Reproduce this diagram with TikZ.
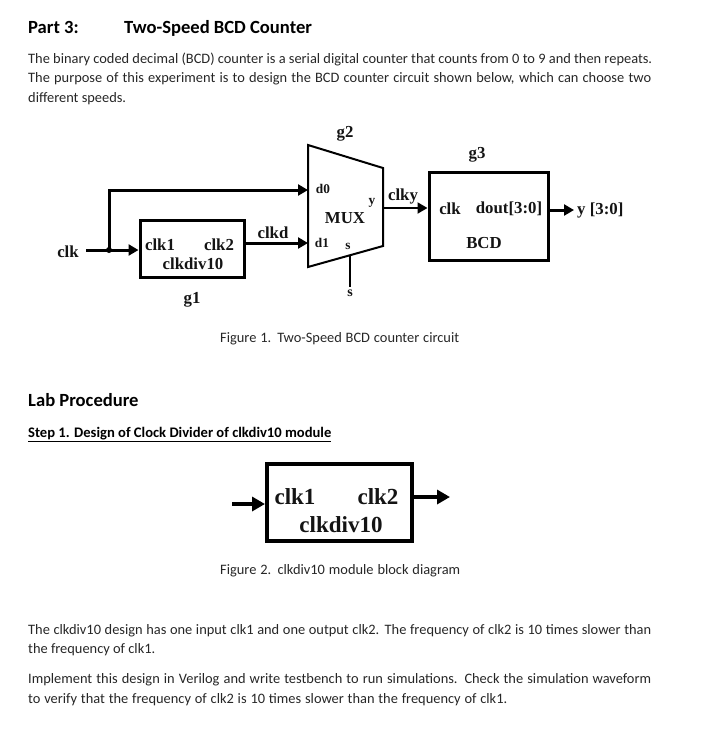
\documentclass[tikz,border=0pt]{standalone}
\usepackage{fontspec}
\setmainfont{Carlito}
\newfontfamily\figfont{Liberation Serif}
\usetikzlibrary{arrows.meta}
\definecolor{ink}{RGB}{20,20,20}
\definecolor{cBody}{RGB}{38,38,38}
\newcommand{\figtext}[1]{\fontsize{#1}{#1}\selectfont\figfont\bfseries}
\newcommand{\fitline}[2]{\makebox[#1pt][s]{#2}}
\begin{document}
\begin{tikzpicture}[
  x=1pt, y=-1pt,
  >={Triangle[length=10pt,width=11pt]},
  para/.style={anchor=base west, inner sep=0pt, text=cBody, font=\fontsize{14.4}{17}\selectfont},
  head/.style={anchor=base west, inner sep=0pt, text=black, font=\fontsize{18.6}{22}\selectfont\bfseries},
  lab/.style={inner sep=0pt, text=ink, font=\figtext{16.8}},
  sublab/.style={inner sep=0pt, text=ink, font=\figtext{13.3}},
  biglab/.style={inner sep=0pt, text=ink, font=\figtext{23}},
  block/.style={draw=black, line width=3pt, fill=white, inner sep=0pt},
  wire/.style={->, line width=3pt, draw=black},
  bigwire/.style={-{Triangle[length=13pt,width=14pt]}, line width=4pt, draw=black},
]
\useasboundingbox (0,0) rectangle (703,745);

% ---- heading and opening paragraph ----
\node[head] (PART) at (28,33) {Part 3:};
\node[head] (TITLE) at (124,33) {Two-Speed BCD Counter};
\node[para] (P1) at (28,63) {\fitline{624}{The binary coded decimal (BCD) counter is a serial digital counter that counts from 0 to 9 and then repeats.}};
\node[para] (P2) at (28,82) {\fitline{623}{The purpose of this experiment is to design the BCD counter circuit shown below, which can choose two}};
\node[para] (P3) at (28,102) {different speeds.};

% ---- figure 1: divider block ----
\node[block, minimum width=104pt, minimum height=57pt] (G1) at (192,248.5) {};
\node[lab] (G1A) at (160,245) {clk1};
\node[lab] (G1B) at (219,245) {clk2};
\node[lab] (G1C) at (193,264) {clkdiv10};
\node[lab] (G1N) at (192,300) {g1};

% ---- figure 1: mux ----
\coordinate (MA) at (308,145);
\coordinate (MB) at (383,168);
\coordinate (MC) at (383,246);
\coordinate (MD) at (308,267);
\draw[line width=2pt, draw=black, line join=miter] (MA) -- (MB) -- (MC) -- (MD) -- cycle;
\node[sublab] (D0) at (323,189) {d0};
\node[sublab] (D1) at (322,243) {d1};
\node[sublab] (MS) at (348,246) {s};
\node[sublab] (MY) at (372,203) {y};
\node[lab] (MUX) at (345,218) {MUX};
\node[lab] (G2N) at (345,134) {g2};

% ---- figure 1: counter block ----
\node[block, minimum width=119pt, minimum height=88pt] (G3) at (488.5,216) {};
\node[lab] (G3A) at (450,209) {clk};
\node[lab] (G3B) at (509,209) {dout[3:0]};
\node[lab] (G3C) at (484,243) {BCD};
\node[lab] (G3N) at (477,155) {g3};

% ---- figure 1: wires ----
\node[lab] (CLK) at (68,252) {clk};
\node[lab] (CLKD) at (273,233) {clkd};
\node[lab] (CLKY) at (403,196) {clky};
\node[lab, anchor=west] (OUT) at (577,210) {y [3:0]};
\node[sublab, font=\figtext{14}] (SN) at (350,293) {s};
\coordinate (JN) at (109,250);
\coordinate (WS) at (86,250);
\coordinate (WT) at (109,190);
\coordinate (SA) at (350,255);
\coordinate (SB) at (350,287);
\draw[wire] (WS) -- (WS -| G1.west);
\draw[wire, -, line cap=rect] (JN) -- (WT);
\draw[wire] (WT) -- (WT -| MA);
\fill (JN) circle (3pt);
\draw[wire] (G1.east |- 0,243) -- (MA |- 0,243);
\draw[wire, line width=2pt] (MB |- 0,208) -- (G3.west |- 0,208);
\draw[wire] (G3.east |- 0,210) -- (OUT.west -| 574,0);
\draw[line width=2pt] (SA) -- (SB);

% ---- caption and procedure ----
\node[para] (F1) at (220,342) {\fitline{239}{Figure 1. Two-Speed BCD counter circuit}};
\node[head] (LAB) at (28,406) {Lab Procedure};
\node[anchor=base west, inner sep=0pt, font=\fontsize{14.6}{17}\selectfont\bfseries] (STEP) at (28,437) {\underline{Step 1. Design of Clock Divider of clkdiv10 module}};

% ---- figure 2 ----
\node[block, line width=4pt, minimum width=145pt, minimum height=77pt] (DIV) at (339.5,502.5) {};
\node[biglab] (DA) at (295,497) {clk1};
\node[biglab] (DB) at (378,497) {clk2};
\node[biglab] (DC) at (341,525) {clkdiv10};
\coordinate (DS) at (232,504);
\coordinate (DE) at (450,497);
\draw[bigwire] (DS) -- (DS -| DIV.west);
\draw[bigwire] (DE -| DIV.east) -- (DE);
\node[para] (F2) at (220,574) {\fitline{240}{Figure 2. clkdiv10 module block diagram}};

% ---- closing paragraphs ----
\node[para] (P4) at (28,634) {\fitline{623}{The clkdiv10 design has one input clk1 and one output clk2. The frequency of clk2 is 10 times slower than}};
\node[para] (P5) at (28,653) {the frequency of clk1.};
\node[para] (P6) at (28,683) {\fitline{623}{Implement this design in Verilog and write testbench to run simulations. Check the simulation waveform}};
\node[para] (P7) at (28,703) {\fitline{479}{to verify that the frequency of clk2 is 10 times slower than the frequency of clk1.}};

\end{tikzpicture}
\end{document}
